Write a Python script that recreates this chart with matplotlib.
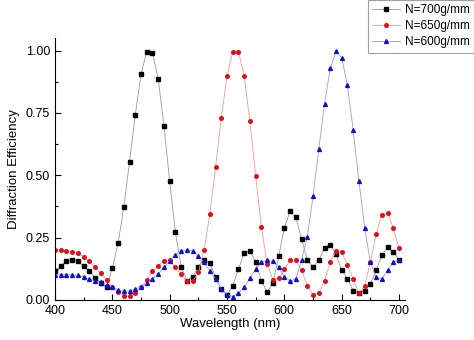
import matplotlib
matplotlib.use("Agg")
import matplotlib.pyplot as plt
from matplotlib.ticker import MultipleLocator

plt.rcParams['font.family'] = ['Liberation Sans', 'DejaVu Sans']

# wavelength grid (nm), one sample every 5 nm
wavelength = list(range(400, 705, 5))

eff_700 = [0.117, 0.137, 0.155, 0.160, 0.155, 0.135, 0.115, 0.088, 0.067, 0.050,
           0.128, 0.227, 0.371, 0.554, 0.742, 0.905, 0.995, 0.992, 0.887, 0.698,
           0.475, 0.271, 0.133, 0.077, 0.093, 0.133, 0.160, 0.147, 0.093, 0.044,
           0.020, 0.057, 0.124, 0.190, 0.198, 0.150, 0.077, 0.031, 0.067, 0.174,
           0.290, 0.355, 0.331, 0.244, 0.160, 0.132, 0.160, 0.208, 0.222, 0.184,
           0.120, 0.084, 0.037, 0.027, 0.037, 0.064, 0.118, 0.178, 0.211, 0.194,
           0.160]

eff_650 = [0.200, 0.200, 0.197, 0.194, 0.188, 0.173, 0.154, 0.130, 0.106, 0.080,
           0.050, 0.033, 0.017, 0.015, 0.027, 0.050, 0.080, 0.114, 0.137, 0.157,
           0.160, 0.130, 0.104, 0.074, 0.074, 0.110, 0.200, 0.343, 0.533, 0.729,
           0.897, 0.996, 0.996, 0.897, 0.716, 0.495, 0.291, 0.144, 0.080, 0.087,
           0.122, 0.158, 0.158, 0.118, 0.057, 0.021, 0.027, 0.077, 0.151, 0.195,
           0.192, 0.138, 0.084, 0.027, 0.057, 0.150, 0.264, 0.340, 0.347, 0.288,
           0.207]

eff_600 = [0.100, 0.101, 0.101, 0.101, 0.098, 0.093, 0.084, 0.074, 0.070, 0.061,
           0.050, 0.041, 0.035, 0.035, 0.043, 0.053, 0.066, 0.084, 0.104, 0.130,
           0.157, 0.181, 0.197, 0.200, 0.197, 0.177, 0.150, 0.117, 0.084, 0.044,
           0.021, 0.013, 0.027, 0.050, 0.088, 0.122, 0.151, 0.158, 0.155, 0.131,
           0.093, 0.075, 0.084, 0.160, 0.254, 0.415, 0.604, 0.786, 0.928, 0.997,
           0.972, 0.860, 0.681, 0.475, 0.288, 0.151, 0.091, 0.084, 0.118, 0.151,
           0.158]

labels = ["N=700g/mm", "N=650g/mm", "N=600g/mm"]

fig = plt.figure(figsize=(4.74, 3.40), dpi=100)
ax = fig.add_axes([0.116, 0.118, 0.738, 0.770])

series = [
    (eff_700, "s", 2.4, "black", "#9a9a9a"),
    (eff_650, "o", 2.6, "#e0101a", "#f39a9a"),
    (eff_600, "^", 2.8, "#1010c8", "#9a9ae6"),
]
for (vals, mk, ms, mc, lc), lab in zip(series, labels):
    ax.plot(wavelength, vals, color=lc, lw=0.6, marker=mk, markersize=ms,
            markerfacecolor=mc, markeredgecolor=mc, label=lab)

ax.set_xlim(400, 705)
ax.set_ylim(0, 1.05)
ax.xaxis.set_major_locator(MultipleLocator(50))
ax.xaxis.set_minor_locator(MultipleLocator(25))
ax.yaxis.set_major_locator(MultipleLocator(0.25))
ax.yaxis.set_minor_locator(MultipleLocator(0.125))
ax.yaxis.set_major_formatter(plt.FormatStrFormatter("%.2f"))
ax.tick_params(which="both", direction="in", labelsize=9, width=0.8)
ax.tick_params(which="major", length=4)
ax.tick_params(which="minor", length=2)
for s in ("top", "right"):
    ax.spines[s].set_visible(False)

ax.set_xlabel("Wavelength (nm)", fontsize=9.5, labelpad=1)
ax.set_ylabel("Diffraction Efficiency", fontsize=9.5, labelpad=4)

leg = fig.legend(loc="upper right", bbox_to_anchor=(1.0, 1.0), fontsize=8.5,
                 frameon=True, fancybox=False, edgecolor="#888888",
                 handlelength=2.4, borderpad=0.35, labelspacing=0.35,
                 handletextpad=0.4, borderaxespad=0.0)
leg.get_frame().set_linewidth(0.8)

fig.savefig("out.png", dpi=100)
